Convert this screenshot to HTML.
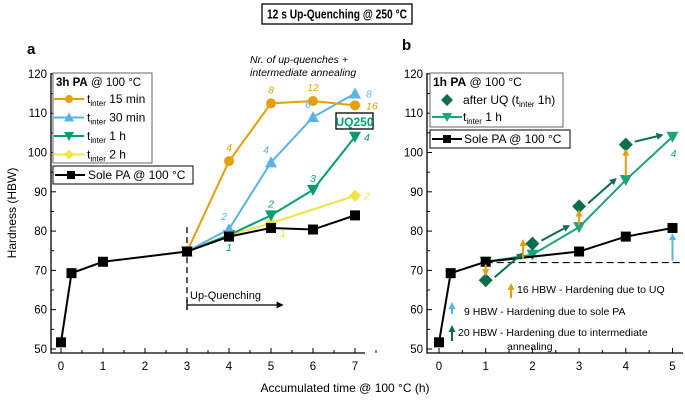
<!DOCTYPE html>
<html><head><meta charset="utf-8"><style>
html,body{margin:0;padding:0;background:#fff}
svg{display:block;font-family:"Liberation Sans",Arial,sans-serif}
</style></head><body>
<svg id="c" width="685" height="403" viewBox="0 0 685 403">
<rect x="262" y="4" width="150" height="20" fill="#fff" stroke="#000" stroke-width="1.3"/>
<text x="337" y="18.5" text-anchor="middle" font-size="12.5" font-weight="bold" textLength="140" lengthAdjust="spacingAndGlyphs">12 s Up-Quenching @ 250 °C</text>
<text x="27" y="54" font-size="15" font-weight="bold">a</text>
<text x="402" y="50" font-size="15" font-weight="bold">b</text>
<text x="250" y="63" font-size="10.5" font-style="italic">Nr. of up-quenches +</text>
<text x="250" y="76" font-size="10.5" font-style="italic">intermediate annealing</text>
<text x="16" y="213" font-size="12" text-anchor="middle" transform="rotate(-90 16 213)">Hardness (HBW)</text>
<text x="345" y="392" font-size="12" text-anchor="middle">Accumulated time @ 100 °C (h)</text>
<g id="pa"></g><g id="pb"></g>
</svg>
<script>
// ---- data panel a ----
const soleX_a=[0,0.25,1,3,4,5,6,7];
const soleY_a=[51.7,69.3,72.2,74.8,78.6,80.8,80.4,84];
const uqX=[3,4,5,6,7];
const m15Y=[74.8,97.8,112.5,113.1,112];
const m30Y=[74.8,80.5,97.5,109,115];
const h1Y=[74.8,79,84,90.5,104];
const h2X=[3,4,5,7];
const h2Y=[74.8,79,82,89];
const m15Lab=["","4","8","12"];
const m30Lab=["","2","4","6"];
const h1Lab=["","1","2","3"];
const h2Lab=["","","1","2"];
const yTicks=[50,60,70,80,90,100,110,120];
const xTicksA=[0,1,2,3,4,5,6,7];
// ---- data panel b ----
const soleX_b=[0,0.25,1,3,4,5];
const soleY_b=[51.7,69.3,72.2,74.8,78.6,80.8];
const tX_b=[1,2,3,4,5];
const tY_b=[72.2,74,81,93,104];
const uqX_b=[1,2,3,4];
const uqY_b=[67.5,76.8,86.3,102];
const xTicksB=[0,1,2,3,4,5];

const NS="http://www.w3.org/2000/svg";
function mk(p,t,a){const e=document.createElementNS(NS,t);for(const k in a)e.setAttribute(k,a[k]);p.appendChild(e);return e;}
const ya=v=>349-(v-50)*3.93;
const xa=v=>61+v*42;
const xb=v=>439+v*46.7;
const C={o:"#E69F00",b:"#56B4E9",g:"#009E73",y:"#F0E442",dg:"#0B6E4F",k:"#000"};

function axes(g,x0,x1,xs,xt,nm){
  let e=mk(g,"path",{d:`M${x0} 73V353H${x1}`,fill:"none",stroke:"#000","stroke-width":1.3});
  
  yTicks.forEach((v,i)=>{
    mk(g,"line",{x1:x0,x2:x0+5,y1:ya(v),y2:ya(v),stroke:"#000"});
    if(i<yTicks.length-1)mk(g,"line",{x1:x0,x2:x0+3,y1:ya(v+5),y2:ya(v+5),stroke:"#000"});
    const t=mk(g,"text",{x:x0-4,y:ya(v)+4,"font-size":11.5,"text-anchor":"end"});t.textContent=v;
    
  });
  xt.forEach(v=>{
    mk(g,"line",{x1:xs(v),x2:xs(v),y1:353,y2:348,stroke:"#000"});
    mk(g,"line",{x1:xs(v+0.5),x2:xs(v+0.5),y1:353,y2:350,stroke:"#000"});
    const t=mk(g,"text",{x:xs(v),y:370,"font-size":11.5,"text-anchor":"middle"});t.textContent=v;
    
  });
}
function marker(g,type,x,y,c,s){
  s=s||5;
  if(type=="sq")return mk(g,"rect",{x:x-s,y:y-s,width:2*s,height:2*s,fill:c});
  if(type=="ci")return mk(g,"circle",{cx:x,cy:y,r:s,fill:c});
  if(type=="up")return mk(g,"path",{d:`M${x} ${y-s-1}L${x+s+1} ${y+s}L${x-s-1} ${y+s}Z`,fill:c});
  if(type=="dn")return mk(g,"path",{d:`M${x} ${y+s+1}L${x+s+1} ${y-s}L${x-s-1} ${y-s}Z`,fill:c});
  if(type=="di")return mk(g,"path",{d:`M${x} ${y-s-1}L${x+s+1} ${y}L${x} ${y+s+1}L${x-s-1} ${y}Z`,fill:c});
}
function series(g,xs,X,Y,c,type,nm,w){
  const l=mk(g,"polyline",{points:X.map((v,i)=>xs(v)+","+ya(Y[i])).join(" "),fill:"none",stroke:c,"stroke-width":w||2});
  
  X.forEach((v,i)=>{const m=marker(g,type,xs(v),ya(Y[i]),c);
    });
}
function labels(g,xs,X,Y,L,c,dx,dy){
  L.forEach((s,i)=>{if(!s)return;const d=Array.isArray(dy)?dy[i]:dy;const t=mk(g,"text",{x:xs(X[i])+dx,y:ya(Y[i])+d,"font-size":10.5,"font-style":"italic",fill:c,"text-anchor":"middle"});t.textContent=s;
    });
}
function arrow(g,x1,y1,x2,y2,c,nm){
  const a=Math.atan2(y2-y1,x2-x1),h=7;
  const ex=x2-Math.cos(a)*h,ey=y2-Math.sin(a)*h;
  const gg=mk(g,"g",{});
  mk(gg,"line",{x1:x1,y1:y1,x2:ex,y2:ey,stroke:c,"stroke-width":c=="#000"?1.3:2});
  mk(gg,"path",{d:`M${x2} ${y2}L${ex-Math.sin(a)*3.5} ${ey+Math.cos(a)*3.5}L${ex+Math.sin(a)*3.5} ${ey-Math.cos(a)*3.5}Z`,fill:c});
}
function txt(g,x,y,s,nm,extra){const t=mk(g,"text",Object.assign({x:x,y:y,"font-size":11},extra||{}));t.innerHTML=s;return t;}

// ---- panel a ----
const A=document.getElementById("pa");

axes(A,51,365,xa,xTicksA,"panel-a");
mk(A,"line",{x1:xa(3),x2:xa(3),y1:ya(81),y2:310,stroke:"#000","stroke-dasharray":"6,4","stroke-width":1.3});
mk(A,"line",{x1:xa(3),x2:xa(3),y1:300,y2:310,stroke:"#000","stroke-width":1.3});
arrow(A,xa(3),305,xa(5.3),305,"#000","up-quenching-arrow");
txt(A,xa(3)+3,299,"Up-Quenching","up-quenching-label");
series(A,xa,h2X,h2Y,C.y,"di","series-2h");
series(A,xa,uqX,h1Y,C.g,"dn","series-1h");
series(A,xa,uqX,m30Y,C.b,"up","series-30min");
series(A,xa,uqX,m15Y,C.o,"ci","series-15min");
series(A,xa,soleX_a,soleY_a,C.k,"sq","series-sole-pa");
labels(A,xa,uqX,m15Y,m15Lab,C.o,0,-10);
labels(A,xa,uqX,m30Y,m30Lab,C.b,-5,-9);
labels(A,xa,uqX,h1Y,h1Lab,C.g,0,[0,16,-8,-8]);
labels(A,xa,h2X,h2Y,h2Lab,C.y,12,[0,0,14,4]);
txt(A,xa(7)+11,ya(115)+4,"8","count-label",{"font-size":10.5,"font-style":"italic",fill:C.b});
txt(A,xa(7)+11,ya(112)+4,"16","count-label",{"font-size":10.5,"font-style":"italic",fill:C.o});
txt(A,xa(7)+9,ya(104)+4,"4","count-label",{"font-size":10.5,"font-style":"italic",fill:C.g});
mk(A,"rect",{x:336,y:113,width:37,height:16,fill:"#fff",stroke:"#000","stroke-width":1.3});
txt(A,354.5,126,"UQ250","uq250-label",{"font-size":12,"font-weight":"bold",fill:C.g,"text-anchor":"middle"});
// legend a
const LA=mk(A,"g",{});
mk(LA,"rect",{x:53,y:73,width:99,height:90,fill:"#fff",stroke:"#666"});
txt(LA,56,86,"<tspan font-weight='bold'>3h PA</tspan> @ 100 °C","legend-title",{"font-size":11.5});
const lg=[[C.o,"ci","15 min"],[C.b,"up","30 min"],[C.g,"dn","1 h"],[C.y,"di","2 h"]];
lg.forEach((d,i)=>{const y=99+i*18.5;mk(LA,"line",{x1:54,x2:84,y1:y,y2:y,stroke:d[0],"stroke-width":2});
  marker(LA,d[1],69,y,d[0],4);
  txt(LA,87,y+4,"t<tspan font-size='8' dy='3'>inter</tspan><tspan dy='-3'> "+d[2]+"</tspan>","legend-entry-"+i,{"font-size":12});});
mk(LA,"rect",{x:53,y:166,width:140,height:18,fill:"#fff",stroke:"#000"});
mk(LA,"line",{x1:55,x2:85,y1:175,y2:175,stroke:"#000","stroke-width":2});marker(LA,"sq",71,175,"#000",4);
txt(LA,88,179,"Sole PA @ 100 °C","legend-entry-sole-pa",{"font-size":12});

// ---- panel b ----
const B=document.getElementById("pb");

axes(B,427,683,xb,xTicksB,"panel-b");
mk(B,"line",{x1:xb(1),x2:682,y1:ya(72),y2:ya(72),stroke:"#000","stroke-dasharray":"7,4","stroke-width":1.2});
series(B,xb,tX_b,tY_b,"#1AA57A","dn","series-b-tinter-1h");
series(B,xb,soleX_b,soleY_b,C.k,"sq","series-b-sole-pa");
uqX_b.forEach((v,i)=>{const m=marker(B,"di",xb(v),ya(uqY_b[i]),C.dg,6);
  arrow(B,xb(v)+9,ya(uqY_b[i])-3,xb(tX_b[i+1])-9,ya(tY_b[i+1])-2,C.dg,"intermediate-annealing-arrow");});
arrow(B,xb(1),ya(71.5),xb(1),ya(68.5),C.o,"uq-arrow");
arrow(B,xb(1.8),ya(73),xb(1.8),ya(78),C.o,"uq-arrow");
arrow(B,xb(3),ya(81.5),xb(3),ya(85.5),C.o,"uq-arrow");
arrow(B,xb(4),ya(94),xb(4),ya(101),C.o,"uq-arrow");
arrow(B,xb(5),ya(72.5),xb(5),ya(79.5),C.b,"sole-pa-arrow");
arrow(B,511,298,511,283,C.o,"legend-uq-arrow");
txt(B,517,293,"16 HBW - Hardening due to UQ","note-uq",{"font-size":10.5});
arrow(B,452,314,452,302,C.b,"legend-pa-arrow");
txt(B,464,315,"9 HBW - Hardening due to sole PA","note-pa",{"font-size":10.5});
arrow(B,452,341,452,325,C.dg,"legend-ia-arrow");
txt(B,458,336,"20 HBW - Hardening due to intermediate","note-ia",{"font-size":10.5});
txt(B,507,350,"annealing","note-ia-2",{"font-size":10.5});
txt(B,xb(5)+1,ya(104)+20,"4","count-label",{"font-size":10.5,"font-style":"italic",fill:"#1AA57A","text-anchor":"middle"});
// legend b
const LB=mk(B,"g",{});
mk(LB,"rect",{x:430,y:73,width:133,height:54,fill:"#fff",stroke:"#666"});
txt(LB,433,86,"<tspan font-weight='bold'>1h PA</tspan> @ 100 °C","legend-b-title",{"font-size":12});
marker(LB,"di",447,100,C.dg,5);
txt(LB,463,104,"after UQ (t<tspan font-size='8' dy='3'>inter</tspan><tspan dy='-3'> 1h)</tspan>","legend-b-after-uq",{"font-size":12});
mk(LB,"line",{x1:432,x2:462,y1:117,y2:117,stroke:"#1AA57A","stroke-width":2});marker(LB,"dn",447,117,"#1AA57A",4);
txt(LB,463,121,"t<tspan font-size='8' dy='3'>inter</tspan><tspan dy='-3'> 1 h</tspan>","legend-b-tinter",{"font-size":12});
mk(LB,"rect",{x:430,y:130,width:140,height:18,fill:"#fff",stroke:"#000"});
mk(LB,"line",{x1:432,x2:462,y1:139,y2:139,stroke:"#000","stroke-width":2});marker(LB,"sq",447,139,"#000",4);
txt(LB,464,143,"Sole PA @ 100 °C","legend-b-sole-pa",{"font-size":12});
</script>
</body></html>
